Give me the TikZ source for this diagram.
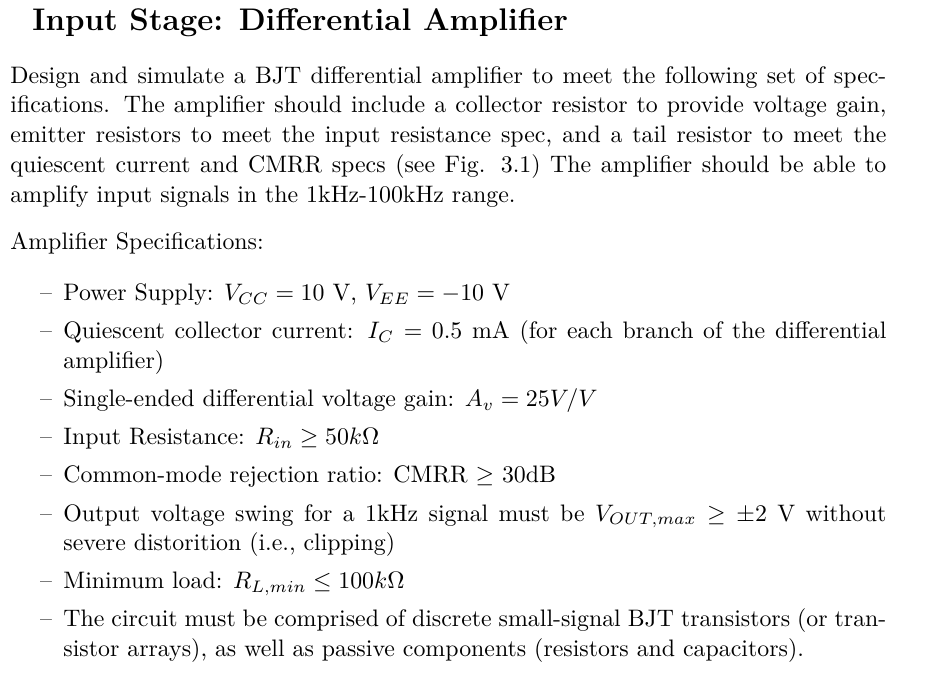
\documentclass[tikz,border=0pt]{standalone}
\begin{document}
\begin{tikzpicture}[x=1pt,y=1pt,scale=2.385,every node/.append style={transform shape},
  txt/.style={anchor=north west,inner sep=0pt,align=justify,text width=367.3pt,font=\fontsize{10}{12.47}\selectfont}]
\useasboundingbox (0,0) rectangle (392.5,-286.8);
\node[anchor=base west,inner sep=0pt,font=\fontsize{13.1}{16}\selectfont\bfseries] (title) at (13.4,-12.6) {Input Stage: Differential Amplifier};
\node[txt] (body) at (4.2,-27.6) {%
\setlength{\parindent}{0pt}\setlength{\parskip}{7.55pt}%
Design and simulate a BJT differential amplifier to meet the following set of specifications. The amplifier should include a collector resistor to provide voltage gain, emitter resistors to meet the input resistance spec, and a tail resistor to meet the quiescent current and CMRR specs (see Fig. 3.1) The amplifier should be able to amplify input signals in the 1kHz-100kHz range.

Amplifier Specifications:\par
\vspace{1.4pt}
\begin{list}{\textendash}{\setlength{\leftmargin}{22.2pt}\setlength{\labelwidth}{8pt}\setlength{\labelsep}{4.8pt}\setlength{\topsep}{0pt}\setlength{\partopsep}{0pt}\setlength{\parsep}{0pt}\setlength{\itemsep}{3.5pt}}
\item Power Supply: $V_{CC}=10$ V, $V_{EE}=-10$ V
\item Quiescent collector current: $I_C = 0.5$ mA (for each branch of the differential amplifier)
\item Single-ended differential voltage gain: $A_v=25V/V$
\item Input Resistance: $R_{in}\geq 50k\Omega$
\item Common-mode rejection ratio: CMRR $\geq$ 30dB
\item Output voltage swing for a 1kHz signal must be $V_{OUT,max}\geq\pm2$ V without severe distorition (i.e., clipping)
\item Minimum load: $R_{L,min}\leq 100k\Omega$
\item The circuit must be comprised of discrete small-signal BJT transistors (or transistor arrays), as well as passive components (resistors and capacitors).
\end{list}};
\end{tikzpicture}
\end{document}
